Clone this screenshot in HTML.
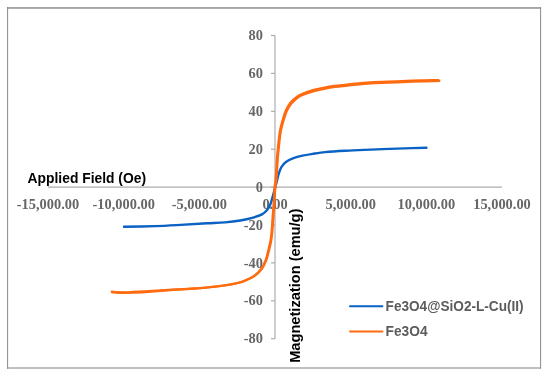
<!DOCTYPE html>
<html lang="en">
<head>
<meta charset="utf-8">
<title>Magnetization curves</title>
<style>
html,body{margin:0;padding:0;background:#fff;}
body{width:550px;height:376px;overflow:hidden;}
svg{display:block;}
.tk{font-family:"Liberation Serif",serif;font-weight:bold;font-size:14.4px;fill:#666;}
.ttl{font-family:"Liberation Sans",sans-serif;font-weight:bold;font-size:14.6px;fill:#000;}
.lg{font-family:"Liberation Sans",sans-serif;font-weight:bold;font-size:14px;fill:#5c5c5c;}
</style>
</head>
<body>
<svg width="550" height="376" viewBox="0 0 550 376">
<rect x="0" y="0" width="550" height="376" fill="#ffffff"/>
<rect x="7" y="7" width="534" height="1.9" fill="#a6a6a6"/>
<rect x="7" y="367.3" width="534" height="1.4" fill="#a6a6a6"/>
<rect x="7.1" y="7" width="1" height="361.7" fill="#8a8a8a"/>
<rect x="540.1" y="7" width="1" height="361.7" fill="#8a8a8a"/>
<g stroke="#adadad" stroke-width="1.2" fill="none">
<line x1="48" y1="187.1" x2="502" y2="187.1"/>
<line x1="275" y1="35.5" x2="275" y2="338.7"/>
<line x1="271" y1="35.5" x2="275" y2="35.5"/>
<line x1="271" y1="73.4" x2="275" y2="73.4"/>
<line x1="271" y1="111.3" x2="275" y2="111.3"/>
<line x1="271" y1="149.2" x2="275" y2="149.2"/>
<line x1="271" y1="187.1" x2="275" y2="187.1"/>
<line x1="271" y1="225.0" x2="275" y2="225.0"/>
<line x1="271" y1="262.9" x2="275" y2="262.9"/>
<line x1="271" y1="300.8" x2="275" y2="300.8"/>
<line x1="271" y1="338.7" x2="275" y2="338.7"/>
</g>
<text class="tk" x="262.9" y="40.15" text-anchor="end">80</text>
<text class="tk" x="262.9" y="78.05" text-anchor="end">60</text>
<text class="tk" x="262.9" y="115.95" text-anchor="end">40</text>
<text class="tk" x="262.9" y="153.85" text-anchor="end">20</text>
<text class="tk" x="262.9" y="191.75" text-anchor="end">0</text>
<text class="tk" x="262.9" y="229.65" text-anchor="end">-20</text>
<text class="tk" x="262.9" y="267.55" text-anchor="end">-40</text>
<text class="tk" x="262.9" y="305.45" text-anchor="end">-60</text>
<text class="tk" x="262.9" y="343.35" text-anchor="end">-80</text>
<text class="tk" x="48.0" y="209.1" text-anchor="middle">-15,000.00</text>
<text class="tk" x="123.7" y="209.1" text-anchor="middle">-10,000.00</text>
<text class="tk" x="199.3" y="209.1" text-anchor="middle">-5,000.00</text>
<text class="tk" x="275.0" y="209.1" text-anchor="middle">0.00</text>
<text class="tk" x="350.7" y="209.1" text-anchor="middle">5,000.00</text>
<text class="tk" x="426.3" y="209.1" text-anchor="middle">10,000.00</text>
<text class="tk" x="502.0" y="209.1" text-anchor="middle">15,000.00</text>
<text class="ttl" x="27.6" y="182.8" textLength="118.4" lengthAdjust="spacingAndGlyphs">Applied Field (Oe)</text>
<text class="ttl" transform="translate(299.8 362.8) rotate(-90)" x="0" y="0" textLength="154.2" lengthAdjust="spacingAndGlyphs">Magnetization (emu/g)</text>
<path d="M124.00 226.80 C134.33 226.57 144.67 226.43 155.00 226.10 C162.20 225.87 169.40 225.49 176.60 225.10 C186.84 224.55 197.07 223.87 207.30 223.30 C213.20 222.97 219.12 222.90 225.00 222.40 C230.12 221.97 235.24 221.36 240.30 220.50 C244.61 219.76 248.90 218.78 253.10 217.60 C256.13 216.75 259.26 215.87 262.00 214.40 C263.93 213.37 265.69 211.78 267.10 210.10 C268.46 208.48 269.49 206.48 270.30 204.50 C271.35 201.94 271.93 199.18 272.70 196.50 C273.57 193.48 274.37 190.43 275.20 187.40 C275.77 185.33 276.36 183.27 276.90 181.20 C277.56 178.64 278.00 176.01 278.80 173.50 C279.50 171.31 280.21 169.03 281.40 167.10 C282.57 165.20 284.11 163.32 285.90 162.00 C288.14 160.35 290.86 159.20 293.50 158.20 C296.40 157.10 299.47 156.39 302.50 155.70 C305.80 154.95 309.16 154.44 312.50 153.90 C316.66 153.24 320.81 152.51 325.00 152.10 C331.81 151.44 338.66 151.07 345.50 150.70 C353.99 150.24 362.50 149.95 371.00 149.60 C379.53 149.25 388.07 148.89 396.60 148.60 C406.57 148.26 416.53 148.00 426.50 147.70" fill="none" stroke="#0a62c4" stroke-width="2.4" stroke-linecap="round" stroke-linejoin="round"/>
<g fill="none" stroke="#ff6b0f" stroke-width="2.2" stroke-linecap="round" stroke-linejoin="round">
<path d="M111.72 291.65 C113.72 291.82 115.72 292.06 117.72 292.15 C120.05 292.26 122.39 292.28 124.72 292.25 C127.39 292.21 130.05 292.07 132.72 291.95 C136.72 291.77 140.72 291.58 144.72 291.35 C155.33 290.74 165.93 290.04 176.54 289.43 C182.67 289.07 188.81 288.85 194.94 288.43 C199.95 288.08 204.95 287.67 209.94 287.12 C215.95 286.47 221.96 285.70 227.94 284.82 C230.62 284.43 233.31 283.96 235.94 283.32 C238.81 282.63 241.72 281.94 244.44 280.82 C247.77 279.46 251.18 277.95 254.09 275.86 C256.84 273.89 259.40 271.37 261.40 268.65 C263.26 266.11 264.52 263.05 265.65 260.08 C266.80 257.05 267.44 253.81 268.22 250.64 C269.08 247.12 269.98 243.58 270.59 240.01 C271.16 236.63 271.46 233.20 271.77 229.79 C272.08 226.39 272.22 222.98 272.46 219.58 C272.98 212.24 273.55 204.90 274.04 197.55 C274.28 194.02 274.33 190.47 274.64 186.95 C274.85 184.46 275.42 182.01 275.62 179.53 C276.21 172.20 276.49 164.85 277.01 157.51 C277.18 155.00 277.46 152.50 277.70 150.00 C278.02 146.70 278.31 143.39 278.70 140.10 C279.11 136.69 279.44 133.26 280.10 129.90 C280.77 126.46 281.70 123.06 282.70 119.70 C283.67 116.43 284.58 113.08 286.00 110.00 C287.22 107.35 288.76 104.75 290.60 102.50 C292.36 100.35 294.53 98.41 296.80 96.80 C298.70 95.45 300.93 94.49 303.10 93.60 C306.36 92.26 309.71 91.07 313.10 90.10 C316.44 89.14 319.88 88.47 323.30 87.80 C327.05 87.07 330.82 86.42 334.60 85.90 C338.08 85.42 341.60 85.15 345.10 84.80 C353.60 83.95 362.08 82.88 370.60 82.30 C379.12 81.72 387.67 81.63 396.20 81.30 C404.67 80.97 413.13 80.56 421.60 80.30 C427.26 80.13 432.93 80.10 438.60 80.00"/>
<path d="M112.28 292.35 C114.28 292.52 116.28 292.76 118.28 292.85 C120.61 292.96 122.95 292.98 125.28 292.95 C127.95 292.91 130.61 292.77 133.28 292.65 C137.28 292.47 141.29 292.33 145.28 292.05 C155.75 291.31 166.19 290.31 176.66 289.57 C182.79 289.15 188.93 289.00 195.06 288.57 C200.07 288.23 205.07 287.82 210.06 287.27 C216.07 286.62 222.08 285.85 228.06 284.97 C230.74 284.58 233.43 284.11 236.06 283.47 C238.93 282.78 241.83 282.07 244.56 280.97 C247.91 279.63 251.35 278.17 254.31 276.14 C257.10 274.23 259.75 271.82 261.80 269.15 C263.70 266.68 265.00 263.65 266.15 260.72 C267.33 257.71 267.99 254.50 268.78 251.36 C269.67 247.85 270.59 244.35 271.21 240.79 C271.80 237.43 272.11 234.01 272.43 230.61 C272.75 227.22 272.89 223.82 273.14 220.42 C273.67 213.10 274.26 205.77 274.76 198.45 C275.00 194.92 275.05 191.37 275.36 187.85 C275.59 185.38 276.17 182.94 276.38 180.47 C276.98 173.16 277.26 165.81 277.79 158.49 C277.97 155.99 278.25 153.50 278.50 151.00 C278.82 147.70 279.11 144.39 279.50 141.10 C279.91 137.69 280.24 134.26 280.90 130.90 C281.57 127.46 282.50 124.06 283.50 120.70 C284.47 117.43 285.38 114.08 286.80 111.00 C288.02 108.35 289.56 105.75 291.40 103.50 C293.16 101.35 295.33 99.41 297.60 97.80 C299.50 96.45 301.73 95.49 303.90 94.60 C307.16 93.26 310.51 92.07 313.90 91.10 C317.24 90.14 320.68 89.47 324.10 88.80 C327.85 88.07 331.62 87.42 335.40 86.90 C338.88 86.42 342.40 86.15 345.90 85.80 C354.40 84.95 362.88 83.88 371.40 83.30 C379.92 82.72 388.47 82.63 397.00 82.30 C405.47 81.97 413.93 81.56 422.40 81.30 C428.06 81.13 433.73 81.10 439.40 81.00"/>
</g>
<line x1="350" y1="306.2" x2="382.4" y2="306.2" stroke="#0a62c4" stroke-width="2" stroke-linecap="round"/>
<line x1="350" y1="331.4" x2="382.4" y2="331.4" stroke="#ff6b0f" stroke-width="2" stroke-linecap="round"/>
<text class="lg" x="385.6" y="311" textLength="138" lengthAdjust="spacingAndGlyphs">Fe3O4@SiO2-L-Cu(II)</text>
<text class="lg" x="385.6" y="336" textLength="42" lengthAdjust="spacingAndGlyphs">Fe3O4</text>
</svg>
</body>
</html>
